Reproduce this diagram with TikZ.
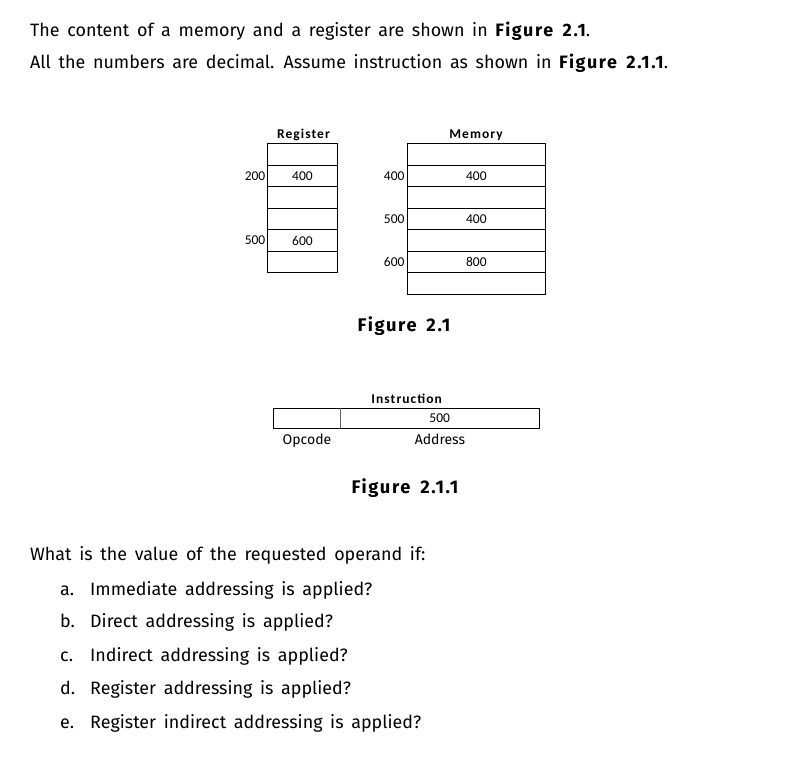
\documentclass[tikz,border=0pt]{standalone}
\usepackage{fontspec}
\setmainfont{Fira Sans}[WordSpace=1.62]
\newfontfamily\calfont{Carlito}
\newcommand{\figb}[1]{{\bfseries\addfontfeature{LetterSpace=9}#1}}
\begin{document}
\begin{tikzpicture}[x=1pt,y=-1pt,
  txt/.style={anchor=base west, inner sep=0pt, font=\fontsize{17.9}{22}\selectfont},
  figlab/.style={anchor=base, inner sep=0pt, font=\fontsize{18.3}{22}\selectfont},
  hdr/.style={anchor=base, inner sep=0pt, font=\calfont\fontsize{13.5}{16}\selectfont\bfseries\addfontfeature{LetterSpace=8}},
  num/.style={inner sep=0pt, font=\calfont\fontsize{13.5}{15}\selectfont},
  small/.style={inner sep=0pt, font=\fontsize{14}{16}\selectfont},
  regcell/.style={draw, line width=1pt, minimum width=70pt, minimum height=21.5pt, inner sep=0pt, anchor=north west, font=\calfont\fontsize{13.5}{15}\selectfont},
  memcell/.style={regcell, minimum width=138.3pt}]
\useasboundingbox (0,0) rectangle (810,756);
% header text
\node[txt] (l1) at (30,36) {The content of a memory and a register are shown in \figb{Figure 2.1}.};
\node[txt] (l2) at (30,68) {All the numbers are decimal. Assume instruction as shown in \figb{Figure 2.1.1}.};
% register
\foreach \i/\t in {1/,2/400,3/,4/,5/600,6/}{
  \node[regcell] (reg\i) at (267,{143.3+(\i-1)*21.5}) {\t};
}
\node[hdr] (reghdr) at (303.5,138.3) {Register};
\node[num, anchor=east] (r200) at ([xshift=-1.5pt]reg2.west) {200};
\node[num, anchor=east] (r500) at ([xshift=-1.5pt]reg5.west) {500};
% memory
\foreach \i/\t in {1/,2/400,3/,4/400,5/,6/800,7/}{
  \node[memcell] (mem\i) at (406.7,{143.3+(\i-1)*21.5}) {\t};
}
\node[hdr] (memhdr) at (476,138.3) {Memory};
\node[num, anchor=east] (m400) at ([xshift=-2pt]mem2.west) {400};
\node[num, anchor=east] (m500) at ([xshift=-2pt]mem4.west) {500};
\node[num, anchor=east] (m600) at ([xshift=-2pt]mem6.west) {600};
\node[figlab] (fig1) at (404,331) {\figb{Figure 2.1}};
% instruction
\node[hdr] (insthdr) at (406.7,403.3) {Instruction};
\node[minimum width=66.7pt, minimum height=20pt, inner sep=0pt, anchor=north west] (op) at (273.3,408.3) {};
\node[num, minimum width=199pt, minimum height=20pt, anchor=north west] (addr) at (340,408.3) {500};
\draw[line width=1pt] (op.north west) rectangle (addr.south east);
\draw[line width=1pt, black!60] (op.north east) -- (op.south east);
\node[small, anchor=base] (opl) at (307,444) {Opcode};
\node[small, anchor=base] (adl) at (440,444) {Address};
\node[figlab] (fig2) at (405,493) {\figb{Figure 2.1.1}};
% questions
\node[txt] (q) at (30,560) {What is the value of the requested operand if:};
\foreach \k/\l/\t/\y in {a/a./Immediate addressing is applied?/595,
                     b/b./Direct addressing is applied?/627,
                     c/c./Indirect addressing is applied?/661,
                     d/d./Register addressing is applied?/694,
                     e/e./Register indirect addressing is applied?/728}{
  \node[txt] (lab\k) at (60,\y) {\l};
  \node[txt] (item\k) at (90,\y) {\t};
}
\end{tikzpicture}
\end{document}
